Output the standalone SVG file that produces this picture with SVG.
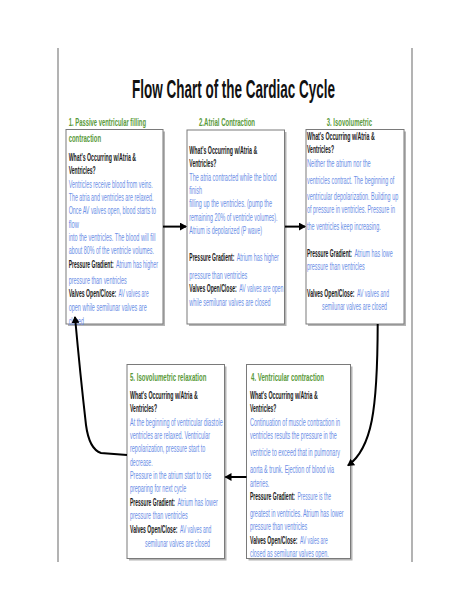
<svg xmlns="http://www.w3.org/2000/svg" width="474" height="613" viewBox="0 0 474 613">
<style>
text{font-family:"Liberation Sans",Arial,sans-serif;}
.title{font-size:25px;font-weight:bold;fill:#111;}
.h{font-size:11px;font-weight:bold;fill:#5a9a3a;}
.k{font-size:10px;font-weight:bold;fill:#1a1a1a;}
.t{font-size:10px;fill:#6a8ee6;}
.shadow{fill:#b4b4b4;}
.box{fill:#fff;stroke:#7a7a7a;stroke-width:1;}
.page{stroke:#9a9a9a;stroke-width:1.5;fill:none;}
.conn{stroke:#000;stroke-width:2;fill:none;}
</style>
<defs>
<marker id="ah" markerWidth="8" markerHeight="8" refX="6" refY="4" orient="auto" markerUnits="userSpaceOnUse">
<path d="M0,0 L7,4 L0,8 Z" fill="#000"/>
</marker>
</defs>
<rect width="474" height="613" fill="#fff"/>
<g id="page">
<line class="page" x1="58" y1="48" x2="58" y2="562"/>
<line class="page" x1="412" y1="48" x2="412" y2="562"/>
</g>
<text class="title" transform="translate(132,97.5) scale(0.56,1)" textLength="362.5" lengthAdjust="spacingAndGlyphs">Flow Chart of the Cardiac Cycle</text>

<g id="box1">
<rect class="shadow" x="68" y="131.5" width="97" height="194.5"/>
<rect class="box" x="66" y="129.5" width="97" height="194.5"/>
<text class="h" transform="translate(68.7,126) scale(0.56,1)" textLength="138" lengthAdjust="spacingAndGlyphs">1. Passive ventricular filling</text>
<text class="h" transform="translate(68.7,141.5) scale(0.56,1)" textLength="57.7" lengthAdjust="spacingAndGlyphs">contraction</text>
<text class="k" transform="translate(68.7,160.7) scale(0.56,1)" textLength="120.2" lengthAdjust="spacingAndGlyphs">What's Occurring w/Atria &amp;</text>
<text class="k" transform="translate(68.7,174.3) scale(0.56,1)" textLength="48.2" lengthAdjust="spacingAndGlyphs">Ventricles?</text>
<text class="t" transform="translate(68.7,187.6) scale(0.56,1)" textLength="150" lengthAdjust="spacingAndGlyphs">Ventricles receive blood from veins.</text>
<text class="t" transform="translate(68.7,200.8) scale(0.56,1)" textLength="151.2" lengthAdjust="spacingAndGlyphs">The atria and ventricles are relaxed.</text>
<text class="t" transform="translate(68.7,214.4) scale(0.56,1)" textLength="155.9" lengthAdjust="spacingAndGlyphs">Once AV valves open, blood starts to</text>
<text class="t" transform="translate(68.7,227.7) scale(0.56,1)" textLength="18.4" lengthAdjust="spacingAndGlyphs">flow</text>
<text class="t" transform="translate(68.7,241) scale(0.56,1)" textLength="154.8" lengthAdjust="spacingAndGlyphs">into the ventricles. The blood will fill</text>
<text class="t" transform="translate(68.7,254.2) scale(0.56,1)" textLength="152.3" lengthAdjust="spacingAndGlyphs">about 80% of the ventricle volumes.</text>
<text class="k" transform="translate(68.7,267.8) scale(0.56,1)" textLength="80.4" lengthAdjust="spacingAndGlyphs">Pressure Gradient:</text>
<text class="t" transform="translate(116,267.8) scale(0.56,1)" textLength="75" lengthAdjust="spacingAndGlyphs">Atrium has higher</text>
<text class="t" transform="translate(68.7,284.2) scale(0.56,1)" textLength="103.6" lengthAdjust="spacingAndGlyphs">pressure than ventricles</text>
<text class="k" transform="translate(68.7,297.4) scale(0.56,1)" textLength="84.8" lengthAdjust="spacingAndGlyphs">Valves Open/Close:</text>
<text class="t" transform="translate(118.5,297.4) scale(0.56,1)" textLength="53.9" lengthAdjust="spacingAndGlyphs">AV valves are</text>
<text class="t" transform="translate(68.7,311) scale(0.56,1)" textLength="139.3" lengthAdjust="spacingAndGlyphs">open while semilunar valves are</text>
<text class="t" transform="translate(68.7,324.6) scale(0.56,1)" textLength="27.3" lengthAdjust="spacingAndGlyphs">closed</text>
</g>

<g id="box2">
<rect class="shadow" x="189" y="132" width="97.5" height="194"/>
<rect class="box" x="187" y="130" width="97.5" height="194"/>
<text class="h" transform="translate(199,126) scale(0.56,1)" textLength="100" lengthAdjust="spacingAndGlyphs">2.Atrial Contraction</text>
<text class="k" transform="translate(189.3,153.7) scale(0.56,1)" textLength="121.4" lengthAdjust="spacingAndGlyphs">What's Occurring w/Atria &amp;</text>
<text class="k" transform="translate(189.3,167.3) scale(0.56,1)" textLength="48.2" lengthAdjust="spacingAndGlyphs">Ventricles?</text>
<text class="t" transform="translate(189.3,180.9) scale(0.56,1)" textLength="155.9" lengthAdjust="spacingAndGlyphs">The atria contracted while the blood</text>
<text class="t" transform="translate(189.3,194.2) scale(0.56,1)" textLength="22.7" lengthAdjust="spacingAndGlyphs">finish</text>
<text class="t" transform="translate(189.3,207.4) scale(0.56,1)" textLength="147.7" lengthAdjust="spacingAndGlyphs">filling up the ventricles. (pump the</text>
<text class="t" transform="translate(189.3,220.7) scale(0.56,1)" textLength="157.7" lengthAdjust="spacingAndGlyphs">remaining 20% of ventricle volumes).</text>
<text class="t" transform="translate(189.3,234.3) scale(0.56,1)" textLength="129.8" lengthAdjust="spacingAndGlyphs">Atrium is depolarized (P wave)</text>
<text class="k" transform="translate(189.3,260.8) scale(0.56,1)" textLength="80.4" lengthAdjust="spacingAndGlyphs">Pressure Gradient:</text>
<text class="t" transform="translate(236.8,260.8) scale(0.56,1)" textLength="75" lengthAdjust="spacingAndGlyphs">Atrium has higher</text>
<text class="t" transform="translate(189.3,279.1) scale(0.56,1)" textLength="103.6" lengthAdjust="spacingAndGlyphs">pressure than ventricles</text>
<text class="k" transform="translate(189.3,291.9) scale(0.56,1)" textLength="84.8" lengthAdjust="spacingAndGlyphs">Valves Open/Close:</text>
<text class="t" transform="translate(239.3,291.9) scale(0.56,1)" textLength="78.6" lengthAdjust="spacingAndGlyphs">AV valves are open</text>
<text class="t" transform="translate(189.3,305.6) scale(0.56,1)" textLength="145.2" lengthAdjust="spacingAndGlyphs">while semilunar valves are closed</text>
</g>

<g id="box3">
<rect class="shadow" x="308" y="131.5" width="98" height="194.5"/>
<rect class="box" x="306" y="129.5" width="98" height="194.5"/>
<text class="h" transform="translate(326.7,126) scale(0.56,1)" textLength="80.9" lengthAdjust="spacingAndGlyphs">3. Isovolumetric</text>
<text class="k" transform="translate(307,139.7) scale(0.56,1)" textLength="120.9" lengthAdjust="spacingAndGlyphs">What's Occurring w/Atria &amp;</text>
<text class="k" transform="translate(307,153) scale(0.56,1)" textLength="48.2" lengthAdjust="spacingAndGlyphs">Ventricles?</text>
<text class="t" transform="translate(307,166.5) scale(0.56,1)" textLength="113.8" lengthAdjust="spacingAndGlyphs">Neither the atrium nor the</text>
<text class="t" transform="translate(307,184) scale(0.56,1)" textLength="155.9" lengthAdjust="spacingAndGlyphs">ventricles contract. The beginning of</text>
<text class="t" transform="translate(307,199.6) scale(0.56,1)" textLength="163" lengthAdjust="spacingAndGlyphs">ventricular depolarization. Building up</text>
<text class="t" transform="translate(307,213) scale(0.56,1)" textLength="157.1" lengthAdjust="spacingAndGlyphs">of pressure in ventricles. Pressure in</text>
<text class="t" transform="translate(307,229.6) scale(0.56,1)" textLength="131.6" lengthAdjust="spacingAndGlyphs">the ventricles keep increasing.</text>
<text class="k" transform="translate(307,256.5) scale(0.56,1)" textLength="80.4" lengthAdjust="spacingAndGlyphs">Pressure Gradient:</text>
<text class="t" transform="translate(354.5,256.5) scale(0.56,1)" textLength="68.2" lengthAdjust="spacingAndGlyphs">Atrium has lowe</text>
<text class="t" transform="translate(307,270) scale(0.56,1)" textLength="103" lengthAdjust="spacingAndGlyphs">pressure than ventricles</text>
<text class="k" transform="translate(307,296.6) scale(0.56,1)" textLength="84.8" lengthAdjust="spacingAndGlyphs">Valves Open/Close:</text>
<text class="t" transform="translate(357,296.6) scale(0.56,1)" textLength="57.1" lengthAdjust="spacingAndGlyphs">AV valves and</text>
<text class="t" transform="translate(322,309.9) scale(0.56,1)" textLength="116.1" lengthAdjust="spacingAndGlyphs">semilunar valves are closed</text>
</g>

<g id="box4">
<rect class="shadow" x="248.5" y="366.5" width="104" height="194"/>
<rect class="box" x="246.5" y="364.5" width="104" height="194"/>
<text class="h" transform="translate(251,380.8) scale(0.56,1)" textLength="130.4" lengthAdjust="spacingAndGlyphs">4. Ventricular contraction</text>
<text class="k" transform="translate(250,398.6) scale(0.56,1)" textLength="120.9" lengthAdjust="spacingAndGlyphs">What's Occurring w/Atria &amp;</text>
<text class="k" transform="translate(250,411.9) scale(0.56,1)" textLength="47" lengthAdjust="spacingAndGlyphs">Ventricles?</text>
<text class="t" transform="translate(250,425.5) scale(0.56,1)" textLength="160.7" lengthAdjust="spacingAndGlyphs">Continuation of muscle contraction in</text>
<text class="t" transform="translate(250,438.8) scale(0.56,1)" textLength="154.8" lengthAdjust="spacingAndGlyphs">ventricles results the pressure in the</text>
<text class="t" transform="translate(250,455.5) scale(0.56,1)" textLength="160.7" lengthAdjust="spacingAndGlyphs">ventricle to exceed that in pulmonary</text>
<text class="t" transform="translate(250,473) scale(0.56,1)" textLength="150" lengthAdjust="spacingAndGlyphs">aorta &amp; trunk. Ejection of blood via</text>
<text class="t" transform="translate(250,486.6) scale(0.56,1)" textLength="34.5" lengthAdjust="spacingAndGlyphs">arteries.</text>
<text class="k" transform="translate(250,500.3) scale(0.56,1)" textLength="80.4" lengthAdjust="spacingAndGlyphs">Pressure Gradient:</text>
<text class="t" transform="translate(297.5,500.3) scale(0.56,1)" textLength="59.8" lengthAdjust="spacingAndGlyphs">Pressure is the</text>
<text class="t" transform="translate(250,516.6) scale(0.56,1)" textLength="167.3" lengthAdjust="spacingAndGlyphs">greatest in ventricles. Atrium has lower</text>
<text class="t" transform="translate(250,530.3) scale(0.56,1)" textLength="102.3" lengthAdjust="spacingAndGlyphs">pressure than ventricles</text>
<text class="k" transform="translate(250,543.5) scale(0.56,1)" textLength="84.8" lengthAdjust="spacingAndGlyphs">Valves Open/Close:</text>
<text class="t" transform="translate(300,543.5) scale(0.56,1)" textLength="49.5" lengthAdjust="spacingAndGlyphs">AV vales are</text>
<text class="t" transform="translate(250,556.7) scale(0.56,1)" textLength="140.5" lengthAdjust="spacingAndGlyphs">closed as semilunar valves open.</text>
</g>

<g id="box5">
<rect class="shadow" x="129" y="366.5" width="97.5" height="194"/>
<rect class="box" x="127" y="364.5" width="97.5" height="194"/>
<text class="h" transform="translate(130,380.8) scale(0.56,1)" textLength="136.3" lengthAdjust="spacingAndGlyphs">5. Isovolumetric relaxation</text>
<text class="k" transform="translate(130,398.6) scale(0.56,1)" textLength="120.9" lengthAdjust="spacingAndGlyphs">What's Occurring w/Atria &amp;</text>
<text class="k" transform="translate(130,411.9) scale(0.56,1)" textLength="48.2" lengthAdjust="spacingAndGlyphs">Ventricles?</text>
<text class="t" transform="translate(130,425.5) scale(0.56,1)" textLength="165.5" lengthAdjust="spacingAndGlyphs">At the beginning of ventricular diastole</text>
<text class="t" transform="translate(130,438.8) scale(0.56,1)" textLength="142.9" lengthAdjust="spacingAndGlyphs">ventricles are relaxed. Ventricular</text>
<text class="t" transform="translate(130,452.4) scale(0.56,1)" textLength="134.5" lengthAdjust="spacingAndGlyphs">repolarization, pressure start to</text>
<text class="t" transform="translate(130,465.6) scale(0.56,1)" textLength="40.5" lengthAdjust="spacingAndGlyphs">decrease.</text>
<text class="t" transform="translate(130,478.9) scale(0.56,1)" textLength="145.2" lengthAdjust="spacingAndGlyphs">Pressure in the atrium start to rise</text>
<text class="t" transform="translate(130,492) scale(0.56,1)" textLength="100.5" lengthAdjust="spacingAndGlyphs">preparing for next cycle</text>
<text class="k" transform="translate(130,505.7) scale(0.56,1)" textLength="80.4" lengthAdjust="spacingAndGlyphs">Pressure Gradient:</text>
<text class="t" transform="translate(177.5,505.7) scale(0.56,1)" textLength="71.8" lengthAdjust="spacingAndGlyphs">Atrium has lower</text>
<text class="t" transform="translate(130,519) scale(0.56,1)" textLength="103" lengthAdjust="spacingAndGlyphs">pressure than ventricles</text>
<text class="k" transform="translate(130,533.4) scale(0.56,1)" textLength="84.8" lengthAdjust="spacingAndGlyphs">Valves Open/Close:</text>
<text class="t" transform="translate(180,533.4) scale(0.56,1)" textLength="55.9" lengthAdjust="spacingAndGlyphs">AV valves and</text>
<text class="t" transform="translate(145,546.6) scale(0.56,1)" textLength="116.1" lengthAdjust="spacingAndGlyphs">semilunar valves are closed</text>
</g>

<g id="connectors">
<path class="conn" d="M163,226.6 L186,226.6" marker-end="url(#ah)"/>
<path class="conn" d="M285,226.6 L305,226.6" marker-end="url(#ah)"/>
<path class="conn" d="M377.7,324 C377.5,410 372,448 348,465.5" marker-end="url(#ah)"/>
<path class="conn" d="M246.5,477 L225.5,477" marker-end="url(#ah)"/>
<path class="conn" d="M127,455 L101,453 C92,450 88,440 86,425 C82,390 78,350 75,317" marker-end="url(#ah)"/>
</g>
</svg>
